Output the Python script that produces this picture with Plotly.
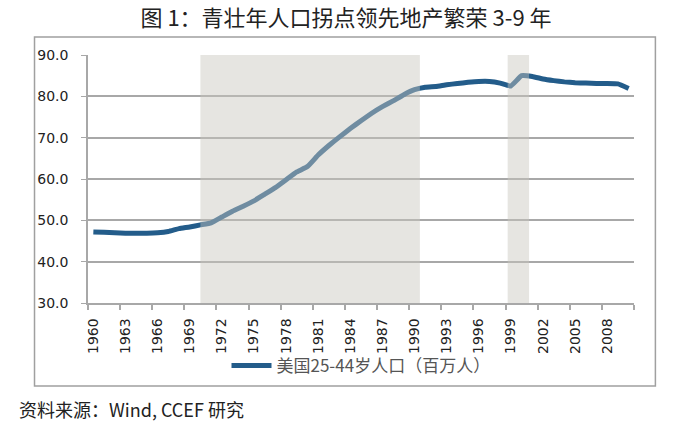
import plotly.graph_objects as go

# ---- data ----
years = list(range(1960, 2011))
population = [
    47.2, 47.1, 47.0, 46.9, 46.9, 46.9, 47.0, 47.3, 48.0, 48.4,   # 1960-1969
    48.9, 49.4, 50.8, 52.2, 53.4, 54.7, 56.3, 57.9, 59.8, 61.7,   # 1970-1979
    63.0, 65.8, 68.1, 70.2, 72.2, 74.1, 75.9, 77.5, 78.9, 80.4,   # 1980-1989
    81.6, 82.2, 82.4, 82.8, 83.1, 83.4, 83.6, 83.6, 83.2, 82.5,   # 1990-1999
    85.0, 84.8, 84.2, 83.8, 83.5, 83.3, 83.2, 83.1, 83.1, 83.0,   # 2000-2009
    81.9,                                                         # 2010
]
tick_years = list(range(1960, 2009, 3))
tick_labels = [str(y) for y in tick_years]
shade_periods = [(1970.0, 1990.5), (1998.7, 2000.7)]
series_name = "美国25-44岁人口（百万人）"
title_text = "图 1：青壮年人口拐点领先地产繁荣 3-9 年"
source_text = "资料来源：Wind, CCEF 研究"

# ---- layout constants ----
W, H = 676, 435
ML, MR, MT, MB = 87.5, 42.4, 55, 132
PW, PH = W - ML - MR, H - MT - MB

def px_x(px):
    return (px - ML) / PW

def px_y(py):
    return (H - MB - py) / PH

CJK = "Noto Sans CJK SC"
LINE_COLOR = "#235C8A"
GRID = "#A8A8A8"

fig = go.Figure()
fig.add_trace(go.Scatter(
    x=years, y=population, mode="lines", name=series_name,
    line=dict(color=LINE_COLOR, width=5, shape="spline", smoothing=0.3),
    showlegend=True,
))

shapes = []
for x0, x1 in shade_periods:
    shapes.append(dict(type="rect", xref="x", yref="paper", x0=x0, x1=x1, y0=0, y1=1,
                       fillcolor="rgb(201,198,190)", opacity=0.46, line=dict(width=0),
                       layer="above"))
# outer frame
shapes.append(dict(type="rect", xref="paper", yref="paper",
                   x0=px_x(34), x1=px_x(655), y0=px_y(386), y1=px_y(37),
                   line=dict(color="#A0A0A0", width=1.5), fillcolor="rgba(0,0,0,0)",
                   layer="below"))

fig.update_layout(
    width=W, height=H,
    margin=dict(l=ML, r=MR, t=MT, b=MB, pad=0),
    paper_bgcolor="white", plot_bgcolor="white",
    shapes=shapes,
    title=dict(text=title_text, x=346 / W, xref="container", xanchor="center",
               y=1 - 18.5 / H, yanchor="middle", yref="container",
               font=dict(family=CJK, size=22, color="#222222")),
    legend=dict(orientation="h", x=0.5, xanchor="center", y=px_y(366), yanchor="middle",
                font=dict(family=CJK, size=17, color="#555555"),
                bgcolor="rgba(0,0,0,0)", itemwidth=40),
    annotations=[dict(text=source_text, xref="paper", yref="paper",
                      x=px_x(16), y=px_y(409), xanchor="left", yanchor="middle",
                      showarrow=False, font=dict(family=CJK, size=18, color="#222222"))],
    xaxis=dict(range=[1959.5, 2010.5], tickmode="array", tickvals=tick_years,
               ticktext=tick_labels, tickangle=-90, ticks="", showgrid=False,
               showline=True, linecolor=GRID, linewidth=1.5, zeroline=False,
               tickfont=dict(family="DejaVu Sans", size=14, color="#222222"),
               ticklabelstandoff=8,
               minor=dict(ticks="outside", tick0=1959.5, dtick=3, ticklen=5,
                          tickcolor=GRID, tickwidth=1.5, showgrid=False)),
    yaxis=dict(range=[30, 90], dtick=10, tickformat=".1f", showgrid=True,
               gridcolor=GRID, gridwidth=1.5, showline=True, linecolor=GRID,
               linewidth=1.5, ticks="outside", ticklen=5, tickcolor=GRID,
               zeroline=False, ticklabelstandoff=10,
               tickfont=dict(family="DejaVu Sans", size=14, color="#222222")),
)

fig.write_html("out.html")
